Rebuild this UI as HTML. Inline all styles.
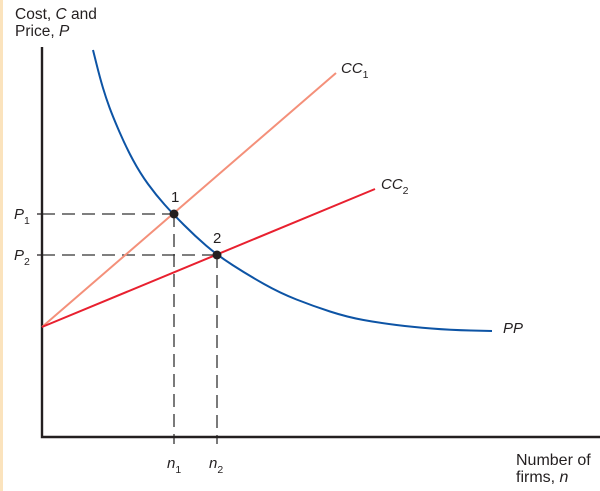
<!DOCTYPE html>
<html><head><meta charset="utf-8"><style>
html,body{margin:0;padding:0;background:#fff;}
svg{display:block;}
text{font-family:"Liberation Sans",Arial,sans-serif;fill:#231f20;}
</style></head><body>
<svg width="600" height="491" viewBox="0 0 600 491" xmlns="http://www.w3.org/2000/svg">
<rect x="0" y="0" width="3" height="491" fill="#fbe3bd"/>
<text x="15" y="19" font-size="15.5">Cost, <tspan font-style="italic">C</tspan> and</text>
<text x="15" y="36" font-size="15.5">Price, <tspan font-style="italic">P</tspan></text>
<g stroke="#333" stroke-width="1.3" stroke-dasharray="13,7" fill="none">
<path d="M42 214 H174"/>
<path d="M42 255 H217"/>
<path d="M174 214 V444"/>
<path d="M217 255 V444"/>
</g>
<path d="M42 47 V437 H600" stroke="#231f20" stroke-width="2.4" fill="none"/>
<path d="M37 214 H42 M37 255 H42" stroke="#231f20" stroke-width="1.2"/>
<line x1="42" y1="327" x2="336" y2="73" stroke="#f4907a" stroke-width="2"/>
<line x1="42" y1="327" x2="375" y2="189" stroke="#e8202f" stroke-width="2"/>
<path fill="none" stroke="#0d54a5" stroke-width="2" d="M93,50 L96.5,64 Q100,78 103,88 Q106,98 109.5,107.5 Q113,117 119.5,132 Q126,147 133,160 Q140,173 148,184 Q156,195 164.5,204.5 Q173,214 184,225 Q195,236 206,245.5 Q217,255 232.5,265 Q248,275 264,284 Q280,293 296.5,299.5 Q313,306 330,311.5 Q347,317 363.5,320 Q380,323 396.5,325 Q413,327 431.5,328.5 Q450,330 471,330.5 L492,331"/>
<circle cx="174" cy="214" r="4.5" fill="#231f20"/>
<circle cx="217" cy="255" r="4.5" fill="#231f20"/>
<text x="171" y="202" font-size="15">1</text>
<text x="213" y="243" font-size="15">2</text>
<text x="341" y="73" font-size="15" font-style="italic">CC<tspan font-size="10.5" dy="5" font-style="normal">1</tspan></text>
<text x="381" y="189" font-size="15" font-style="italic">CC<tspan font-size="10.5" dy="5" font-style="normal">2</tspan></text>
<text x="503" y="333" font-size="15" font-style="italic">PP</text>
<text x="14" y="219" font-size="15" font-style="italic">P<tspan font-size="10.5" dy="5" font-style="normal">1</tspan></text>
<text x="14" y="260" font-size="15" font-style="italic">P<tspan font-size="10.5" dy="5" font-style="normal">2</tspan></text>
<text x="167" y="468" font-size="15" font-style="italic">n<tspan font-size="10.5" dy="5" font-style="normal">1</tspan></text>
<text x="209" y="468" font-size="15" font-style="italic">n<tspan font-size="10.5" dy="5" font-style="normal">2</tspan></text>
<text x="516" y="465" font-size="16">Number of</text>
<text x="516" y="482" font-size="16">firms, <tspan font-style="italic">n</tspan></text>
</svg>
</body></html>
